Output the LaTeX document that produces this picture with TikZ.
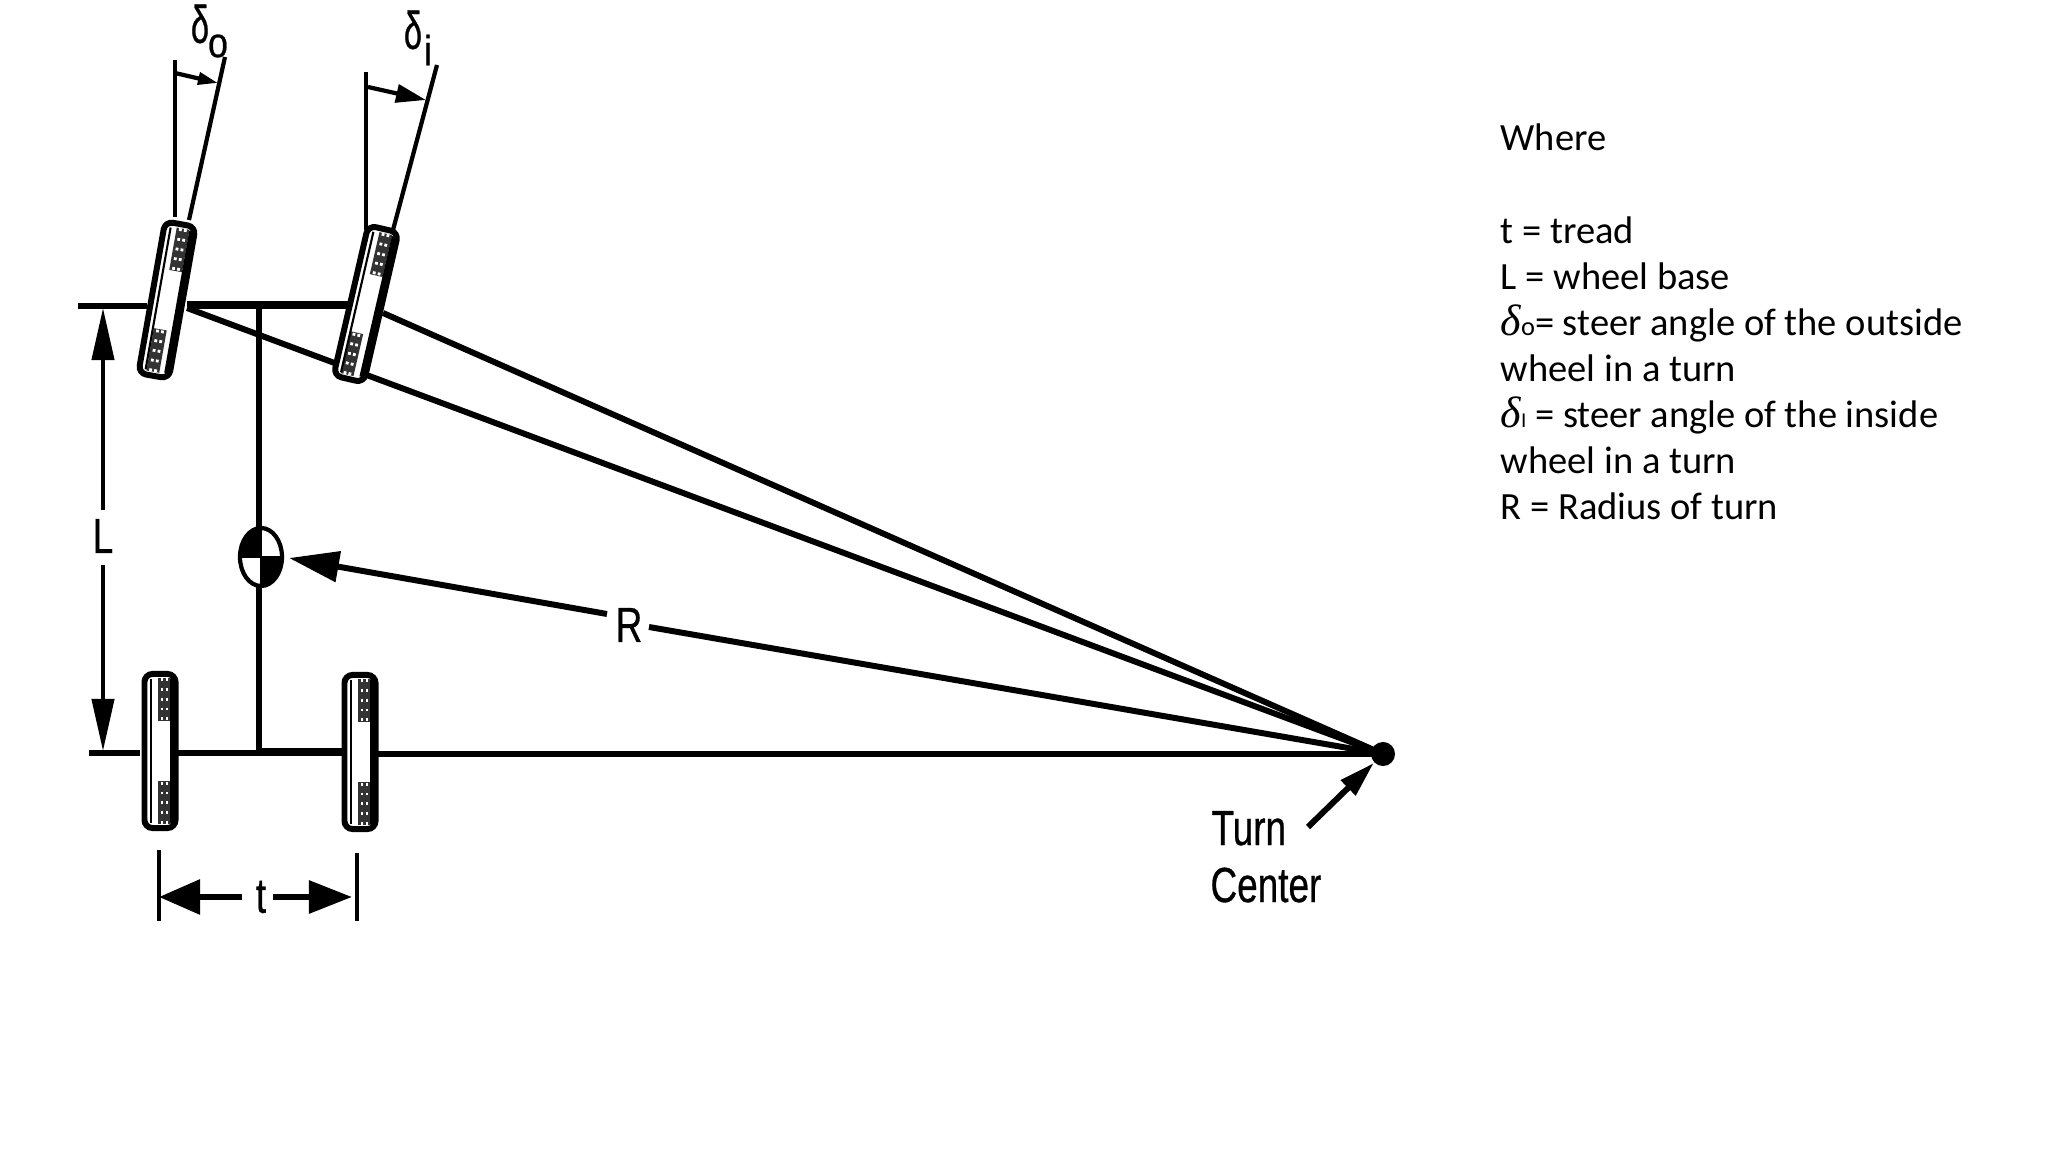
\documentclass[tikz,border=0pt]{standalone}
\usepackage{fontspec}
\setmainfont{Carlito}
\newfontfamily\drawfont{Liberation Sans}[FakeBold=0.7]
\newfontfamily\greekfont{Liberation Serif}
\usetikzlibrary{arrows.meta,positioning,shapes.geometric}

\begin{document}
\begin{tikzpicture}[
    x=0.01cm, y=-0.01cm,
    wheel/.style={draw, fill=white, rounded corners=0.08cm, line width=1.7pt, minimum width=0.31cm, minimum height=1.54cm, inner sep=0pt},
    ln/.style={line width=1.7pt},
    fineln/.style={line width=1.2pt},
    axle/.style={line width=2.4pt},
    dimtip/.style={-{Triangle[length=0.5cm, width=0.3cm]}},
    ltip/.style={-{Triangle[length=0.52cm, width=0.22cm]}},
    anglesm/.style={-{Triangle[length=0.2cm, width=0.12cm]}},
    anglebig/.style={-{Triangle[length=0.3cm, width=0.18cm]}},
    lbl/.style={font=\drawfont\fontsize{14}{14}\selectfont, xscale=0.75, inner sep=0pt},
    dlbl/.style={font=\drawfont\fontsize{15}{15}\selectfont, xscale=0.62, inner sep=0pt},
    sublbl/.style={font=\drawfont\fontsize{12}{12}\selectfont, xscale=0.85, inner sep=0pt}
  ]
\useasboundingbox (0,0) rectangle (2048,1152);

% Key points
\coordinate (tc) at (1383,754);
\coordinate (cg) at (261,557);
\coordinate (fa-l) at (187,308);
\coordinate (fa-r) at (383,313);
\coordinate (ra-r) at (377,754);

% Lines to the turn center, behind the wheels
\draw[ln] (fa-l) -- (tc);
\draw[ln] (fa-r) -- (tc);
\draw[ln] (ra-r) -- (tc);

% Axles and reference ticks
\draw[axle] (187,305) -- (350,305);
\draw[ln] (177,753) -- (259,753);
\draw[axle] (259,752) -- (343,752);
\draw[ln] (78,306) -- (147,306);
\draw[ln] (89,753) -- (140,753);
\draw[ln] (259,305) -- (259,752);

% Wheels
\foreach \nm/\px/\py/\ang/\ua/\ub in {fo/167/300/-10/0/-5, fi/366/304/-13/0/-6, ro/160/751/0/1/1, ri/360/752/0/1/1} {
  \node[wheel, rotate=\ang] (wheel-\nm) at (\px,\py) {};
  \begin{scope}[shift={(\px,\py)}, rotate=\ang]
    \fill[black!80] (\ua-3,-73) rectangle (\ua+10,-30);
    \fill[black!80] (\ub-3,73) rectangle (\ub+10,30);
    \draw[white, dotted, line width=0.8pt] (\ua+1,-73) -- (\ua+1,-30);
    \draw[white, dotted, line width=0.8pt] (\ua+6,-73) -- (\ua+6,-30);
    \draw[white, dotted, line width=0.8pt] (\ub+1,73) -- (\ub+1,30);
    \draw[white, dotted, line width=0.8pt] (\ub+6,73) -- (\ub+6,30);
    \draw[line width=0.6pt] (-9,-72) -- (-9,72);
    \draw[line width=1.2pt] (12,-72) -- (12,72);
  \end{scope}
}

% CG symbol
\node[draw, fill=white, ellipse, line width=1.2pt, minimum width=0.42cm, minimum height=0.58cm, inner sep=0pt] (cgsym) at (cg) {};
\fill (cg) -- (261,528) arc[x radius=21, y radius=-29, start angle=90, end angle=180] -- cycle;
\fill (cg) -- (261,586) arc[x radius=21, y radius=-29, start angle=270, end angle=360] -- cycle;
\draw[line width=0.7pt] (261,528) -- (261,586) (240,557) -- (282,557);

% Turn center
\node[circle, fill=black, minimum size=0.24cm, inner sep=0pt] (tcdot) at (tc) {};

% Radius
\node[lbl] (rlbl) at (629,625) {R};
\draw[ln, dimtip] (607,614) -- (289,558);
\draw[ln] (649,627) -- (tc);

% Wheel base
\node[lbl] (llbl) at (103,536) {L};
\draw[fineln, ltip] (103,510) -- (103,308);
\draw[fineln, ltip] (103,565) -- (103,751);

% Tread
\node[lbl] (tlbl) at (261,897) {t};
\draw[fineln] (159,850) -- (159,921);
\draw[fineln] (357,853) -- (357,921);
\draw[ln, -{Triangle[length=0.41cm, width=0.34cm]}] (242,897) -- (159,897);
\draw[ln, -{Triangle[length=0.43cm, width=0.32cm]}] (273,897) -- (352,897);

% Steer angles
\draw[fineln] (175,60) -- (175,217);
\draw[fineln] (189,220) -- (225,57);
\draw[fineln, anglesm] (175,73) -- (218,83);
\node[dlbl] (dolbl) at (200,24) {δ};
\node[sublbl] (dosub) at (218,46) {o};

\draw[fineln] (366,72) -- (366,230);
\draw[fineln] (393,230) -- (437,65);
\draw[fineln, anglebig] (368,87) -- (426,100);
\node[dlbl] (dilbl) at (413,30) {δ};
\node[sublbl] (disub) at (428,50) {i};

% Turn center label
\node[lbl, anchor=base west] (turn) at (1211,845) {Turn};
\node[lbl, anchor=base west] (center) at (1210,902) {Center};
\draw[ln, -{Triangle[length=0.36cm, width=0.2cm]}] (1308,827) -- (tcdot);

% Legend
\node[anchor=base west, align=left, inner sep=0pt, font=\fontsize{10.95}{13.1}\selectfont] (legend) at (1500,519.5) {Where\\[13.1pt]
t = tread\\
L = wheel base\\
{\greekfont\itshape\fontsize{12.5}{13.1}\selectfont δ}{\fontsize{7.5}{7.5}\selectfont o}= steer angle of the outside\\
wheel in a turn\\
{\greekfont\itshape\fontsize{12.5}{13.1}\selectfont δ}{\fontsize{6}{6}\selectfont I} = steer angle of the inside\\
wheel in a turn\\
R = Radius of turn};

\end{tikzpicture}
\end{document}
